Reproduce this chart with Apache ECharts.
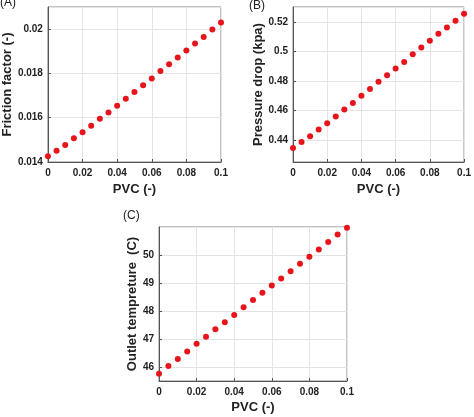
<!DOCTYPE html>
<html>
<head>
<meta charset="utf-8">
<script src="https://cdn.jsdelivr.net/npm/echarts@6/dist/echarts.min.js"></script>
<style>
  html, body { margin: 0; padding: 0; background: #fff; }
  #chart { width: 474px; height: 417px; }
</style>
</head>
<body>
<div id="chart"></div>
<script>
// PVC values (x) shared by all three panels
const pvc = [0, 0.005, 0.01, 0.015, 0.02, 0.025, 0.03, 0.035, 0.04, 0.045, 0.05,
  0.055, 0.06, 0.065, 0.07, 0.075, 0.08, 0.085, 0.09, 0.095, 0.1];

// (A) friction factor
const frictionFactor = [0.01426, 0.01451, 0.01477, 0.01507, 0.01534, 0.01564, 0.01595,
  0.01624, 0.01654, 0.01686, 0.01716, 0.01747, 0.01777, 0.01811, 0.01841, 0.01872,
  0.01904, 0.01935, 0.01965, 0.01998, 0.0203];

// (B) pressure drop (kpa)
const pressureDrop = [0.4344, 0.4385, 0.4425, 0.4470, 0.4513, 0.4558, 0.4605, 0.4650,
  0.4698, 0.4745, 0.4793, 0.4838, 0.4883, 0.4928, 0.4980, 0.5025, 0.5071, 0.5118,
  0.5161, 0.5207, 0.5254];

// (C) outlet temperature (C)
const outletTemp = [45.76, 46.04, 46.29, 46.55, 46.83, 47.08, 47.35, 47.60, 47.86,
  48.13, 48.39, 48.65, 48.91, 49.16, 49.42, 49.69, 49.94, 50.20, 50.46, 50.73, 50.97];

const myChart = echarts.init(document.getElementById('chart'));

const FONT = 'Liberation Sans, Arial, sans-serif';
const DOT = '#e8141b';

function xAxisFor(gridIndex) {
  return {
    gridIndex: gridIndex,
    type: 'value',
    min: 0,
    max: 0.1,
    interval: 0.02,
    name: 'PVC (-)',
    nameLocation: 'middle',
    nameGap: 21,
    nameTextStyle: { fontFamily: FONT, fontWeight: 'bold', fontSize: 13, color: '#222', verticalAlign: 'top' },
    axisLine: { show: true, lineStyle: { color: '#555', width: 1 } },
    axisTick: { show: true, inside: true, length: 3, lineStyle: { color: '#555' } },
    axisLabel: { fontFamily: FONT, fontWeight: 'bold', fontSize: 10, color: '#222', margin: 6 },
    splitLine: { show: true, lineStyle: { color: '#e4e4e4', width: 1 } }
  };
}

function yAxisFor(gridIndex, name, min, max, extra) {
  return Object.assign({
    gridIndex: gridIndex,
    type: 'value',
    min: min,
    max: max,
    name: name,
    nameLocation: 'middle',
    nameTextStyle: { fontFamily: FONT, fontWeight: 'bold', fontSize: 13, color: '#222' },
    axisLine: { show: true, lineStyle: { color: '#555', width: 1 } },
    axisTick: { show: true, inside: true, length: 3, lineStyle: { color: '#555' } },
    axisLabel: { fontFamily: FONT, fontWeight: 'bold', fontSize: 10, color: '#222', margin: 5,
      showMinLabel: gridIndex === 0, showMaxLabel: false },
    splitLine: { show: true, lineStyle: { color: '#e4e4e4', width: 1 } }
  }, extra);
}

function seriesFor(idx, values) {
  return {
    type: 'scatter',
    xAxisIndex: idx,
    yAxisIndex: idx,
    symbol: 'circle',
    symbolSize: 6,
    itemStyle: { color: DOT, opacity: 1 },
    data: pvc.map((x, i) => [x, values[i]])
  };
}

const gridBox = { show: true, borderColor: '#888', borderWidth: 1, backgroundColor: 'transparent' };

const option = {
  animation: false,
  backgroundColor: '#fff',
  grid: [
    Object.assign({ left: 47, top: 7, width: 174, height: 155 }, gridBox),
    Object.assign({ left: 293, top: 7, width: 174, height: 155 }, gridBox),
    Object.assign({ left: 159, top: 227, width: 188, height: 154 }, gridBox)
  ],
  xAxis: [xAxisFor(0), xAxisFor(1), Object.assign(xAxisFor(2), { nameGap: 20 })],
  yAxis: [
    yAxisFor(0, 'Friction factor (-)', 0.014, 0.021, { interval: 0.002, nameGap: 33 }),
    yAxisFor(1, 'Pressure drop (kpa)', 0.425, 0.53, { splitNumber: 5, nameGap: 23 }),
    yAxisFor(2, 'Outlet tempreture  (C)', 45.5, 51, { splitNumber: 5, nameGap: 17 })
  ],
  series: [
    seriesFor(0, frictionFactor),
    seriesFor(1, pressureDrop),
    seriesFor(2, outletTemp)
  ],
  graphic: [
    { type: 'text', left: 0, top: -3, style: { text: '(A)', font: '12px ' + FONT, fill: '#222' } },
    { type: 'text', left: 249, top: 0, style: { text: '(B)', font: '12px ' + FONT, fill: '#222' } },
    { type: 'text', left: 123, top: 210, style: { text: '(C)', font: '12px ' + FONT, fill: '#222' } }
  ]
};

myChart.setOption(option);
</script>
</body>
</html>
